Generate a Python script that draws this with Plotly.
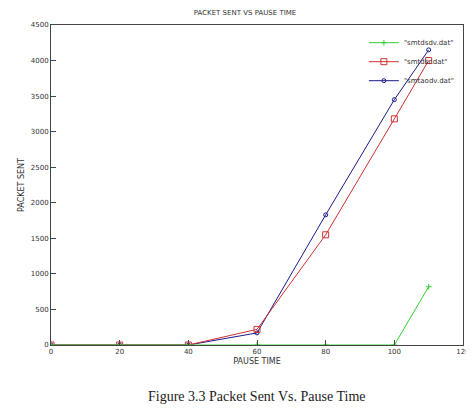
import plotly.graph_objects as go

x = [0, 20, 40, 60, 80, 100, 110]
aodv = [0, 0, 0, 170, 1830, 3450, 4150]
dsdv = [0, 0, 0, 0, 0, 0, 820]
dsr = [0, 0, 0, 220, 1550, 3180, 4000]
names = ['"smtaodv.dat"', '"smtdsdv.dat"', '"smtdsr.dat"']

fig = go.Figure()
fig.add_trace(go.Scatter(x=x, y=aodv, name=names[0], mode="lines+markers",
    line=dict(color="#1a1a8c", width=1), marker=dict(symbol="circle-open", size=4)))
fig.add_trace(go.Scatter(x=x, y=dsr, name=names[2], mode="lines+markers", legendrank=3,
    line=dict(color="#d03030", width=1), marker=dict(symbol="square-open", size=6)))
fig.add_trace(go.Scatter(x=x, y=dsdv, name=names[1], mode="lines+markers", legendrank=2,
    line=dict(color="#33cc33", width=1), marker=dict(symbol="cross-thin-open", size=4)))

fig.update_layout(
    width=474, height=413, paper_bgcolor="white", plot_bgcolor="white",
    margin=dict(l=43, r=14, t=17, b=76),
    title=dict(text="PACKET SENT VS PAUSE TIME", x=0.5, y=0.995, yanchor="top",
               font=dict(size=7, family="DejaVu Sans", color="#333")),
    font=dict(family="DejaVu Sans", size=7, color="#333"),
    legend=dict(x=0.99, y=0.99, xanchor="right", yanchor="top", bgcolor="rgba(0,0,0,0)",
                font=dict(size=7), tracegroupgap=0),
    annotations=[dict(text="Figure 3.3 Packet Sent Vs. Pause Time", x=0.5, y=-0.19,
                      xref="paper", yref="paper", showarrow=False,
                      font=dict(family="Liberation Serif", size=14, color="#222"))],
)
fig.update_xaxes(range=[0, 120], dtick=20, showgrid=False, showline=True, mirror=True,
                 linecolor="#444", ticks="inside", title=dict(text="PAUSE TIME", standoff=2), zeroline=False)
fig.update_yaxes(range=[0, 4500], dtick=500, showgrid=False, showline=True, mirror=True,
                 linecolor="#444", ticks="inside", title=dict(text="PACKET SENT", standoff=4), zeroline=False)
fig.write_html("out.html")
